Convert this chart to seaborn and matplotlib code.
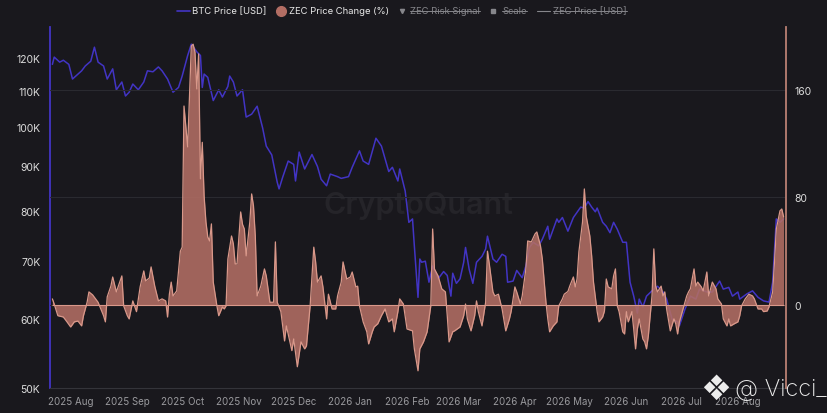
import pandas as pd
import matplotlib
matplotlib.use("Agg")
import matplotlib.pyplot as plt
import matplotlib.dates as mdates
from matplotlib.lines import Line2D
from matplotlib.ticker import FixedLocator, FuncFormatter, NullLocator
import seaborn as sns

# BTC price in thousand USD, day offsets counted from 2025-08-01
btc_days = [-10, -9, -6, -4, -1, 1, 4, 6, 8, 11,
            13, 15, 18, 20, 23, 25, 28, 30, 32, 34,
            37, 40, 42, 45, 48, 50, 53, 56, 59, 61,
            64, 66, 69, 71, 72, 73, 75, 78, 81, 83,
            86, 87, 89, 91, 94, 96, 99, 102, 105, 107,
            110, 113, 114, 116, 119, 122, 123, 125, 128, 132,
            135, 137, 140, 142, 146, 148, 152, 154, 158, 160,
            163, 167, 170, 174, 176, 179, 180, 183, 185, 187,
            188, 190, 191, 192, 194, 196, 198, 201, 204, 206,
            208, 209, 211, 213, 215, 216, 218, 220, 222, 225,
            227, 228, 231, 233, 236, 238, 239, 242, 244, 247,
            249, 251, 253, 256, 258, 261, 262, 266, 267, 269,
            272, 275, 279, 281, 283, 285, 287, 288, 291, 293,
            295, 297, 299, 302, 304, 306, 308, 310, 311, 313,
            315, 318, 321, 324, 326, 329, 332, 333, 336, 339,
            342, 344, 348, 351, 355, 357, 360, 362, 365, 366,
            370, 373, 376, 379, 382, 384, 386, 388, 390]
btc_price_k = [118.0, 120.3, 118.7, 119.3, 118.0, 113.5, 115.0, 116.0, 117.5, 119.0,
               123.5, 118.7, 117.5, 113.5, 116.6, 110.3, 112.6, 108.5, 109.6, 112.0,
               110.3, 112.6, 116.0, 115.7, 117.2, 116.0, 113.5, 109.6, 111.0, 114.4,
               120.8, 124.5, 122.0, 120.8, 111.0, 115.0, 114.0, 107.2, 110.3, 108.2,
               111.3, 114.4, 112.6, 108.5, 110.3, 102.6, 103.4, 105.6, 99.7, 95.0,
               92.8, 86.3, 84.8, 87.5, 91.3, 90.5, 86.6, 93.5, 89.4, 92.9,
               90.0, 87.0, 85.5, 88.2, 87.6, 87.2, 87.6, 89.8, 93.8, 91.3,
               90.5, 97.0, 95.0, 88.8, 89.8, 86.6, 89.4, 84.3, 77.6, 78.3,
               72.9, 63.6, 70.4, 69.8, 70.0, 66.2, 69.1, 66.8, 68.1, 67.4,
               63.8, 67.8, 66.0, 66.8, 69.8, 72.6, 68.5, 66.0, 69.8, 70.9,
               72.3, 74.8, 70.4, 69.8, 71.3, 70.9, 66.2, 66.4, 68.3, 67.0,
               69.1, 72.6, 73.6, 72.9, 74.2, 76.8, 74.2, 78.3, 77.6, 78.6,
               75.8, 78.6, 80.8, 80.6, 82.0, 80.8, 79.8, 80.6, 77.6, 76.8,
               75.5, 77.6, 76.2, 73.6, 73.6, 66.2, 63.8, 61.0, 63.3, 62.0,
               63.8, 64.7, 65.5, 64.5, 63.3, 60.0, 59.6, 59.0, 61.6, 63.8,
               63.3, 65.0, 64.5, 64.5, 66.4, 65.0, 65.3, 63.8, 64.5, 63.3,
               64.2, 64.7, 63.6, 63.0, 62.8, 66.2, 78.3, 77.6, 78.3]

# ZEC price change (%), same day offsets
zec_days = [-10, -9, -7, -4, -2, 0, 2, 4, 6, 7,
            9, 10, 12, 15, 18, 19, 20, 22, 23, 25,
            28, 29, 31, 32, 34, 36, 38, 40, 41, 43,
            44, 46, 48, 50, 52, 53, 54, 55, 56, 58,
            60, 61, 62, 63, 64, 66, 67, 68, 69, 70,
            71, 72, 73, 74, 75, 76, 77, 78, 80, 81,
            83, 84, 85, 86, 88, 89, 90, 91, 93, 94,
            95, 96, 98, 99, 100, 101, 102, 104, 106, 107,
            109, 111, 112, 113, 115, 117, 118, 121, 122, 124,
            126, 128, 129, 131, 133, 134, 135, 137, 138, 140,
            141, 143, 145, 146, 148, 149, 151, 153, 154, 156,
            157, 158, 160, 162, 163, 165, 166, 168, 170, 172,
            174, 176, 177, 179, 180, 182, 184, 187, 188, 190,
            191, 193, 195, 197, 198, 199, 201, 203, 205, 206,
            207, 209, 210, 213, 215, 216, 217, 219, 221, 222,
            223, 225, 227, 228, 229, 231, 232, 234, 236, 238,
            240, 241, 243, 244, 246, 247, 249, 250, 252, 254,
            255, 257, 258, 260, 261, 262, 264, 266, 267, 269,
            270, 272, 273, 275, 276, 277, 278, 280, 281, 282,
            284, 285, 286, 288, 289, 291, 292, 293, 294, 296,
            297, 298, 299, 300, 302, 303, 304, 305, 307, 308,
            309, 310, 311, 313, 314, 315, 316, 318, 319, 320,
            321, 323, 324, 325, 326, 328, 330, 331, 332, 333,
            335, 337, 338, 339, 341, 342, 343, 345, 346, 348,
            349, 351, 353, 354, 356, 357, 359, 360, 361, 363,
            365, 366, 367, 369, 371, 373, 374, 376, 378, 379,
            381, 382, 384, 385, 386, 388, 389, 390]
zec_change = [4.5, 0.7, -8, -9, -12.6, -16.4, -12.6, -12, -15.6, -8,
              2, 9.7, 7.5, 2, -8, -12.6, 6, 14, 20.8, 9.7,
              21.6, -0.7, -8, -10.4, 3, -5, 13.4, 25.3, 17.9, 20,
              28.3, 14, 3, 4.5, 3, -9, 8, 17, 6.7, 10.4,
              40, 43, 148, 133, 117.6, 192.7, 194, 188, 160.7, 186.8,
              93.8, 121, 81, 61.8, 50.6, 47.6, 60.3, 17, -0.7, -8,
              -1.5, -3, -0.7, 34.2, 51.3, 45.4, 30.5, 30.5, 69.2, 60,
              56.5, 36.5, 61.8, 82.6, 73.7, 51.3, 6.7, 14, 26.8, 21.6,
              2, 2, 46.9, 2, -5, -26.8, -15.6, -34, -25.3, -46,
              -27.5, -32.7, -30.5, -0.7, 43, 32, 17, 21.6, 13.4, -10.4,
              8, -3, -3, 6.7, 17, 32, 19.3, 20.8, 24.5, 13.4,
              14, -0.7, -12.6, -20, -29, -20, -16.4, -14, -8, -3,
              -12.6, -10.4, -20, -5, 4.5, 0.7, -17.9, -19.3, -32.7, -49,
              -32.7, -27.5, -20, -0.7, 56.5, 26.8, 21.6, 12, 9.7, -8,
              -27.5, -20, -19.3, -16.4, -8, 0.7, -10.4, -19.3, -8, 3,
              -5, -15.6, 2, 40, 30.5, 9.7, 6.7, 8, -3, -19.3,
              -10.4, -4.5, 13.4, 9.7, 0.7, 6.7, 26.8, 47.6, 46.9, 52.8,
              54.3, 43.9, 34.2, 2, -10.4, -20, -15.6, -12.6, -0.7, 4.5,
              8, 10, 14, 20.8, 13.4, 19.3, 39.4, 61.8, 86.3, 66.2,
              51.3, 36.5, 17, -5, -12.6, -9, -4.5, 19.3, 13.4, 12,
              21.6, 26.8, -0.7, -5, -20, -21.6, -5, -12.6, -5, -17.9,
              -32.7, -17.9, -10.4, -25.3, -27.5, -32.7, -23, 6.7, 41.7, 14,
              9.7, 14, 6.7, 9.7, -3, -19.3, -10.4, -14, -21.6, -12.6,
              -3, 6.7, 9.7, 12, 26.8, 14, 17, 13.4, 10.4, 24.5,
              6.7, 17, 12, 4.5, 0.7, -10.4, -15.6, -10.4, -15.6, -14,
              -12.6, -8, -0.7, 4.5, 8, 6.7, 4.5, -3, -3, -5,
              -4.5, -1.5, 9.7, 32, 56.5, 70, 71.4, 65.5]

left_ticks = [50, 60, 70, 80, 90, 100, 110, 120]
right_ticks = [0, 80, 160]

start = pd.Timestamp("2025-08-01")
btc = pd.DataFrame({"date": start + pd.to_timedelta(btc_days, unit="D"), "price": btc_price_k})
zec = pd.DataFrame({"date": start + pd.to_timedelta(zec_days, unit="D"), "change": zec_change})

BG = "#19181d"
BTC_C = "#4234c4"
ZEC_FILL = "#b36e64"
ZEC_LINE = "#d9988a"
GRID = "#2a2a30"
MUTED = "#86868b"

sns.set_theme(style="dark")
plt.rcParams["font.family"] = ["Inter", "DejaVu Sans"]

W, H = 828, 414
fig = plt.figure(figsize=(W / 100, H / 100), dpi=100, facecolor=BG)
ax = fig.add_axes([50 / W, 25 / H, 736 / W, 361 / H])
ax.set_facecolor(BG)
ax2 = ax.twinx()
ax2.set_zorder(ax.get_zorder() + 1)
ax2.patch.set_visible(False)

# BTC on a log scale (left)
sns.lineplot(data=btc, x="date", y="price", ax=ax, color=BTC_C, lw=1.1)
ax.set_yscale("log")
ax.set_ylim(50, 130.3)
ax.yaxis.set_major_locator(FixedLocator(left_ticks))
ax.yaxis.set_minor_locator(NullLocator())
ax.yaxis.set_major_formatter(FuncFormatter(lambda v, p: f"{v:.0f}K"))

# ZEC change as an area (right)
ax2.fill_between(zec["date"], 0, zec["change"], color=ZEC_FILL, alpha=0.88, lw=0)
sns.lineplot(data=zec, x="date", y="change", ax=ax2, color=ZEC_LINE, lw=0.9)
ax2.hlines(0, zec["date"].min(), zec["date"].max(), color=ZEC_LINE, lw=0.8)
ax2.set_ylim(-61.8, 206.8)
ax2.set_yticks(right_ticks)
ax2.grid(axis="y", color=GRID, lw=0.8)
ax2.set_axisbelow(True)

ax.set_xlim(start + pd.Timedelta(days=-11.3), start + pd.Timedelta(days=391.3))
ax.xaxis.set_major_locator(mdates.MonthLocator())
ax.xaxis.set_major_formatter(mdates.DateFormatter("%Y %b"))

for a in (ax, ax2):
    a.set_xlabel("")
    a.set_ylabel("")
    for s in a.spines.values():
        s.set_visible(False)

ax.spines["left"].set_visible(True)
ax.spines["left"].set_color(BTC_C)
ax.spines["left"].set_linewidth(1.3)
ax.spines["bottom"].set_visible(True)
ax.spines["bottom"].set_color("#34343a")
ax.spines["bottom"].set_linewidth(0.8)
ax2.spines["right"].set_visible(True)
ax2.spines["right"].set_color("#b98073")
ax2.spines["right"].set_linewidth(1.3)

ax.tick_params(axis="x", colors="#9a9a9e", labelsize=7, length=3, width=0.6, pad=3)
ax.tick_params(axis="x", color="#3a3a40")
ax.tick_params(axis="y", colors="#dcdcdc", labelsize=7.5, length=0, pad=7)
ax2.tick_params(axis="y", colors="#dcdcdc", labelsize=7.5, length=0, pad=6)

# watermarks
ax.text(0.5, 0.507, "CryptoQuant", transform=ax.transAxes, ha="center", va="center",
        fontsize=22, fontweight="semibold", color="#252429", zorder=0)
fig.text(735 / W, 1 - 390 / H, "@ Vicci_", color="#ececec", fontsize=17,
         fontweight="light", ha="left", va="center", zorder=10)
fig.text(716 / W, 1 - 390 / H, "\u2756", color="#ececec", fontsize=25,
         ha="center", va="center", family="DejaVu Sans", zorder=10)

# legend drawn by hand
ly = 1 - 12 / H
fs = 6.8
fig.add_artist(Line2D([177 / W, 190 / W], [ly, ly], color=BTC_C, lw=1.2))
fig.text(192 / W, ly, "BTC Price [USD]", color="#e8e8e8", fontsize=fs, va="center")
fig.add_artist(Line2D([281 / W], [ly], marker="o", ms=7, color=ZEC_FILL, lw=0))
fig.text(289 / W, ly, "ZEC Price Change (%)", color="#e8e8e8", fontsize=fs, va="center")
fig.add_artist(Line2D([402 / W], [ly], marker="v", ms=3, color=MUTED, lw=0))
t1 = fig.text(410 / W, ly, "ZEC Risk Signal", color=MUTED, fontsize=fs, va="center")
fig.add_artist(Line2D([493 / W], [ly], marker="s", ms=2.5, color=MUTED, lw=0))
t2 = fig.text(502 / W, ly, "Scale", color=MUTED, fontsize=fs, va="center")
fig.add_artist(Line2D([537 / W, 550 / W], [ly, ly], color=MUTED, lw=0.8))
t3 = fig.text(553 / W, ly, "ZEC Price [USD]", color=MUTED, fontsize=fs, va="center")

fig.canvas.draw()
for t in (t1, t2, t3):
    bb = t.get_window_extent()
    yc = (bb.y0 + bb.y1) / 2
    fig.add_artist(Line2D([bb.x0 / W, bb.x1 / W], [yc / H, yc / H], color=MUTED, lw=0.7))

fig.savefig("out.png", dpi=100, facecolor=BG)
